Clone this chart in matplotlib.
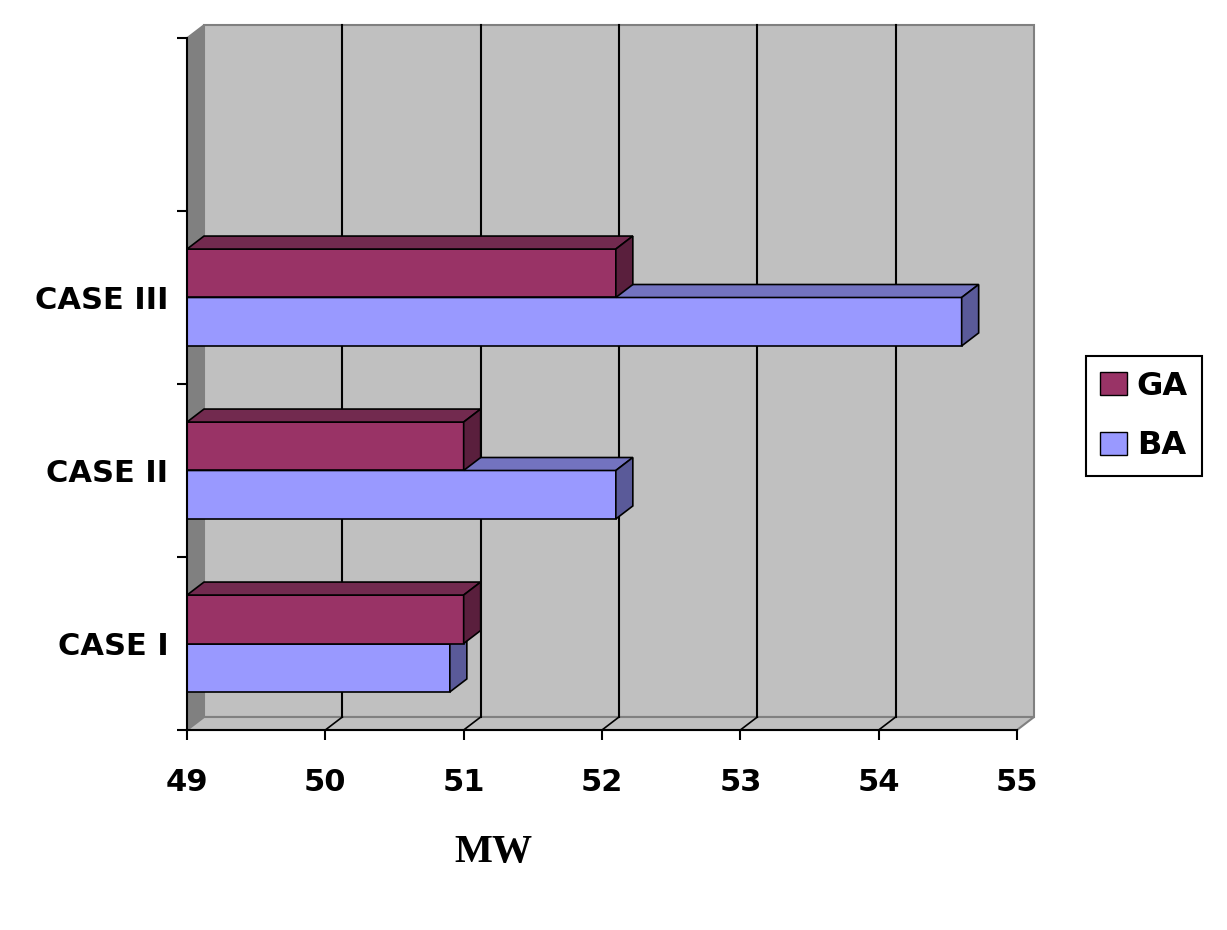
import matplotlib.pyplot as plt
from matplotlib.patches import Polygon, Patch

# data
cases = ["CASE I", "CASE II", "CASE III"]
series = ["GA", "BA"]
ga_vals = [51.0, 51.0, 52.1]
ba_vals = [50.9, 52.1, 54.6]
x_ticks = [49, 50, 51, 52, 53, 54, 55]
n_slots = 4  # Excel left an empty category slot on top

ga_col = ["#993366", "#722A4F", "#5A1F3D"]   # front, top, side
ba_col = ["#9999FF", "#7373C0", "#5A5A99"]

fig = plt.figure(figsize=(12.27, 9.3), dpi=100)
ax = fig.add_axes([187/1227, 200/930, 830/1227, 692/930])
ax.set_xlim(x_ticks[0], x_ticks[-1])
ax.set_ylim(0, n_slots)
ax.patch.set_visible(False)

# 3D depth offset, pixels -> data units
dx = 17 * (x_ticks[-1] - x_ticks[0]) / 830
dy = 13 * n_slots / 692
x0, x1 = x_ticks[0], x_ticks[-1]


def poly(pts, fc, ec="black", lw=1.2, z=1):
    ax.add_patch(Polygon(pts, closed=True, facecolor=fc, edgecolor=ec,
                         lw=lw, clip_on=False, zorder=z, joinstyle="miter"))


# walls and floor
poly([(x0+dx, dy), (x1+dx, dy), (x1+dx, n_slots+dy), (x0+dx, n_slots+dy)], "#C0C0C0", ec="#808080", lw=1.5)
poly([(x0, 0), (x0+dx, dy), (x0+dx, n_slots+dy), (x0, n_slots)], "#808080", ec="#808080")
poly([(x0, 0), (x1, 0), (x1+dx, dy), (x0+dx, dy)], "#C0C0C0", ec="#808080", lw=1.5)

# gridlines on back wall and floor
for x in x_ticks[1:-1]:
    ax.plot([x+dx, x+dx], [dy, n_slots+dy], color="black", lw=1.5, zorder=2, clip_on=False)
    ax.plot([x, x+dx], [0, dy], color="black", lw=1.2, zorder=2, clip_on=False)


def bar3d(lo, hi, val, cols, z):
    poly([(x0, lo), (val, lo), (val, hi), (x0, hi)], cols[0], z=z)
    poly([(x0, hi), (val, hi), (val+dx, hi+dy), (x0+dx, hi+dy)], cols[1], z=z)
    poly([(val, lo), (val+dx, lo+dy), (val+dx, hi+dy), (val, hi)], cols[2], z=z)


h = 0.28
for i in range(len(cases)):
    c = i + 0.5
    bar3d(c - h, c, ba_vals[i], ba_col, 3)
    bar3d(c, c + h, ga_vals[i], ga_col, 4)

# axes
for s in ["top", "right"]:
    ax.spines[s].set_visible(False)
for s in ["bottom", "left"]:
    ax.spines[s].set_linewidth(1.5)
    ax.spines[s].set_zorder(5)

ax.set_xticks(x_ticks)
ax.set_xticklabels([str(t) for t in x_ticks], fontsize=22, fontweight="bold")
ax.tick_params(axis="x", length=7.2, width=1.5, pad=20)

ax.set_yticks(range(n_slots + 1))
ax.set_yticklabels([])
ax.tick_params(axis="y", which="major", length=7.5, width=1.5)
ax.set_yticks([i + 0.5 for i in range(len(cases))], minor=True)
ax.set_yticklabels(cases, minor=True, fontsize=22, fontweight="bold")
ax.tick_params(axis="y", which="minor", length=0, pad=13.5)

fig.text(493/1227, 1 - 852/930, "MW", family="Liberation Serif",
         fontweight="bold", fontsize=29, ha="center", va="center")

handles = [Patch(facecolor=ga_col[0], edgecolor="black"),
           Patch(facecolor=ba_col[0], edgecolor="black")]
leg = fig.legend(handles, series, loc="center", bbox_to_anchor=(1144/1227, 1 - 416/930),
                 prop=dict(weight="bold", size=23), frameon=True, fancybox=False,
                 edgecolor="black", framealpha=1, handlelength=0.85, handleheight=0.75,
                 handletextpad=0.3, labelspacing=0.9, borderpad=0.45, borderaxespad=0)
leg.get_frame().set_linewidth(1.5)

plt.savefig("out.png", dpi=100)
